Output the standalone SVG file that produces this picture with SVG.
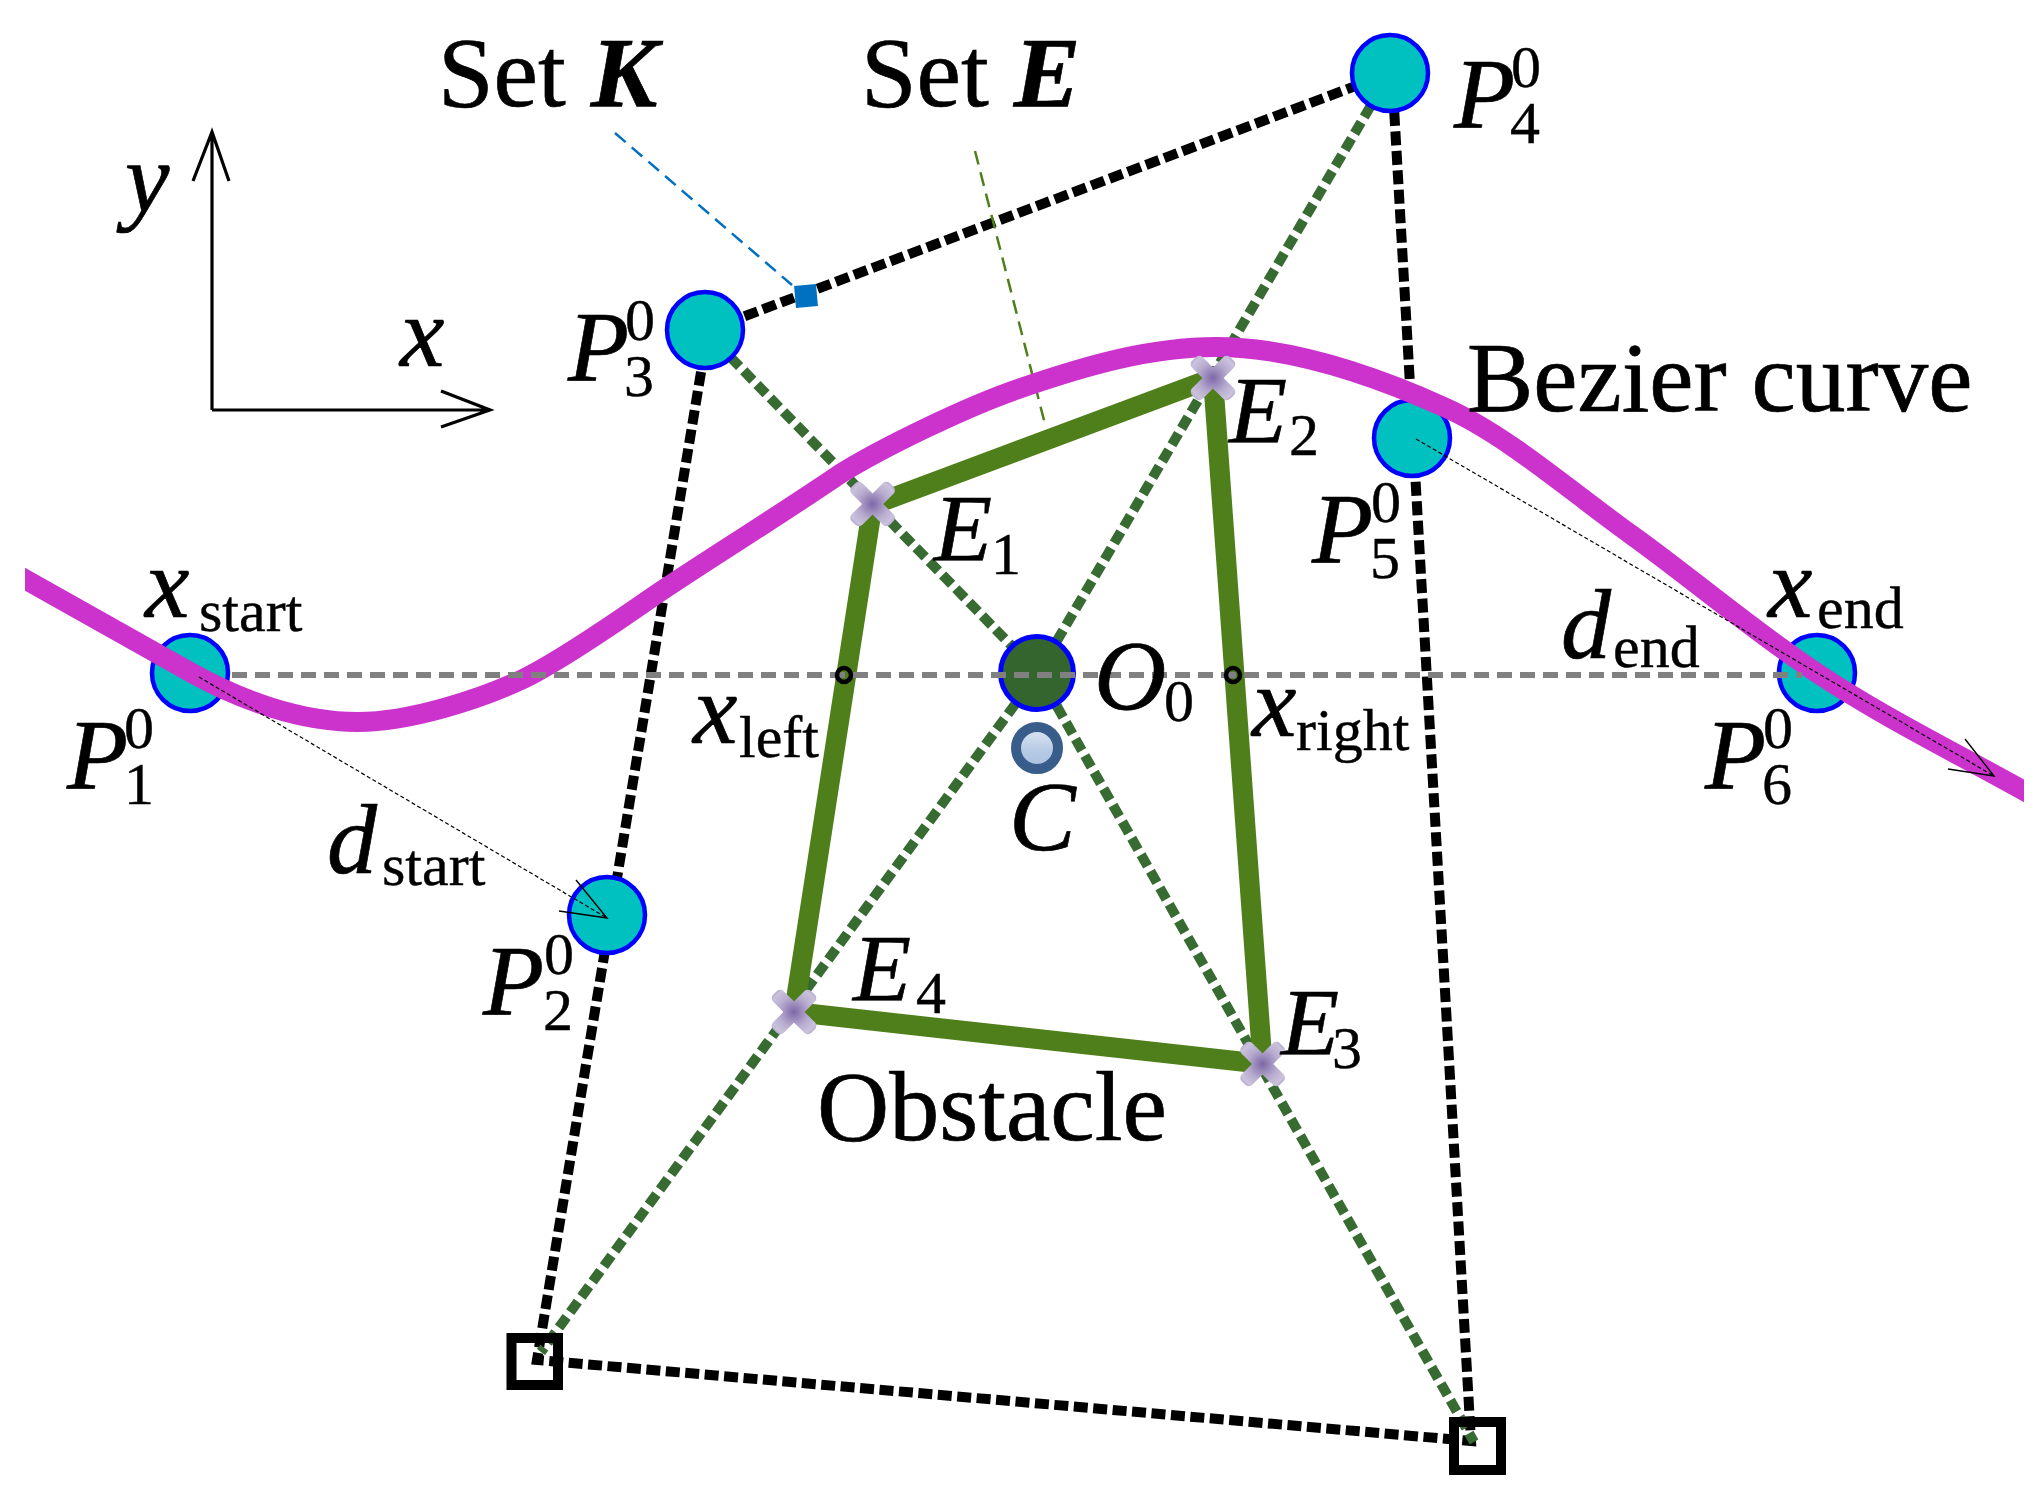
<svg xmlns="http://www.w3.org/2000/svg" width="2043" height="1500" viewBox="0 0 2043 1500">
<style>
text{font-family:"Liberation Serif","Times New Roman",serif;fill:#000;stroke:#000;stroke-width:.7}
.t{font-size:100px}.i{font-size:100px;font-style:italic}.e{font-size:95px;font-style:italic}.s{font-size:60px;stroke-width:.4}
.bi{font-weight:bold;font-style:italic}
.blk{fill:none;stroke:#000;stroke-width:10;stroke-dasharray:14 5.5}
.grn{fill:none;stroke:#376b32;stroke-width:10;stroke-dasharray:13 6}
.gry{fill:none;stroke:#808080;stroke-width:6;stroke-dasharray:15 8}
.obs{fill:none;stroke:#4f7f1a;stroke-width:20;stroke-linejoin:miter}
.ax{fill:none;stroke:#000;stroke-width:3.2}
.thin{fill:none;stroke:#000;stroke-width:1.2;stroke-dasharray:4 2.5}
.wing{fill:none;stroke:#000;stroke-width:1.4}
.ctrl{fill:#00c0c0;stroke:#0000ff;stroke-width:4.5}
.sq{fill:none;stroke:#000;stroke-width:10}
.mk{fill:none;stroke:#000;stroke-width:4.5}
</style>
<defs>
<radialGradient id="cg" gradientUnits="userSpaceOnUse" cx="0" cy="0" r="30">
<stop offset="0" stop-color="#7d68a8"/><stop offset="0.5" stop-color="#b8accf"/><stop offset="0.8" stop-color="#cbc2dd"/><stop offset="1" stop-color="#a597c2"/>
</radialGradient>
<linearGradient id="cc" x1="0" y1="0" x2="0" y2="1">
<stop offset="0" stop-color="#dfe8f3"/><stop offset="0.6" stop-color="#b4c9e4"/><stop offset="1" stop-color="#a9c1e0"/>
</linearGradient>
<g id="cross">
<rect x="-27" y="-7.500" width="54" height="15" rx="5" fill="url(#cg)" transform="rotate(45)"/>
<rect x="-27" y="-7.500" width="54" height="15" rx="5" fill="url(#cg)" transform="rotate(-45)"/>
</g>
<clipPath id="cv"><rect x="25" y="0" width="1999" height="1500"/></clipPath>
</defs>
<g id="connectors">
<path id="control-black" class="blk" d="M708 330L1390 73M1392 73L1471 1441L537 1360L708 330"/>
<path id="spoke-p3" class="grn" d="M704 330L1038 673"/>
<path id="spoke-p4" class="grn" d="M1390 73L1038 673"/>
<path id="spoke-b" class="grn" d="M1038 673L1474 1442"/>
<path id="spoke-a" class="grn" d="M1038 673L541 1352"/>
<path id="leader-k" fill="none" stroke="#0070c0" stroke-width="2.5" stroke-dasharray="14 8" d="M615 133L792 285"/>
<path id="leader-e" fill="none" stroke="#4f7f1a" stroke-width="2.5" stroke-dasharray="14 8" d="M975 151L1046 428"/>
</g>
<g id="axes">
<path class="ax" d="M212 410V132M193 181L212 132L229 181M212 410H490M441 391L490 410L441 427"/>
</g>
<g id="obstacle">
<path class="obs" d="M872.600 505L1213 378L1262.600 1064L794 1012Z"/>
</g>
<g id="node-p1"><circle class="ctrl" cx="190" cy="673" r="38"/></g>
<g id="node-p2"><circle class="ctrl" cx="607" cy="915" r="38"/></g>
<g id="node-p3"><circle class="ctrl" cx="705" cy="330" r="38"/></g>
<g id="node-p4"><circle class="ctrl" cx="1390" cy="73" r="38"/></g>
<g id="node-p5"><circle class="ctrl" cx="1412" cy="438" r="38"/></g>
<g id="node-p6"><circle class="ctrl" cx="1817" cy="673" r="38"/></g>
<g id="node-o0"><circle cx="1037" cy="673" r="36.500" fill="#35652f" stroke="#0000ff" stroke-width="5"/></g>
<g id="node-c"><circle cx="1037" cy="748" r="21" fill="url(#cc)" stroke="#385d8a" stroke-width="10"/></g>
<g id="corner-a"><rect class="sq" x="511.500" y="1338" width="46.500" height="47"/></g>
<g id="corner-b"><rect class="sq" x="1454" y="1422" width="47" height="48"/></g>
<g id="node-k"><rect x="795" y="285" width="22" height="22" fill="#0070c0" transform="rotate(-5 806 296)"/></g>
<g id="curve">
<path clip-path="url(#cv)" fill="none" stroke="#cc33cc" stroke-width="20" d="M5 568L190 672C240 700 300 722 358 722C410 722 480 699 521 680C555 664 615 623 651 598C690 571 780 515 840 474C880 449 965 407 1021 388C1085 366 1150 347 1216 347C1292 347 1375 376 1444 407C1507 435 1570 491 1633 536C1694 580 1756 633 1817 673C1886 719 1955 752 2044 802"/>
</g>
<g id="midline">
<path class="gry" d="M232 675H1802"/>
<circle class="mk" cx="844" cy="675" r="7"/>
<circle class="mk" cx="1233" cy="675" r="7"/>
</g>
<g id="distance-lines">
<path class="thin" d="M199 677L607 918"/>
<path class="wing" d="M576 880L607 918L559 911"/>
<path class="thin" d="M1416 439L1994 776"/>
<path class="wing" d="M1965 739L1994 776L1948 769"/>
</g>
<g id="crosses">
<use id="e1" href="#cross" x="872.600" y="504"/>
<use id="e2" href="#cross" x="1213" y="378"/>
<use id="e3" href="#cross" x="1262.600" y="1064"/>
<use id="e4" href="#cross" x="794" y="1012"/>
</g>
<g id="labels">
<text class="t" x="438" y="106">Set <tspan class="bi">K</tspan></text>
<text class="t" x="861" y="106">Set <tspan class="bi">E</tspan></text>
<text class="t" x="1467" y="411" style="font-size:99.500px">Bezier curve</text>
<text class="t" x="817" y="1140">Obstacle</text>
<text class="i" x="125" y="212">y</text>
<text class="i" x="400" y="366">x</text>
<text class="i" x="67" y="788">P</text><text class="s" x="124" y="748">0</text><text class="s" x="124" y="804">1</text>
<text class="i" x="483" y="1014">P</text><text class="s" x="544" y="974">0</text><text class="s" x="543" y="1030">2</text>
<text class="i" x="568" y="380">P</text><text class="s" x="625" y="340">0</text><text class="s" x="624" y="396">3</text>
<text class="i" x="1454" y="127">P</text><text class="s" x="1511" y="87">0</text><text class="s" x="1510" y="143">4</text>
<text class="i" x="1312" y="562">P</text><text class="s" x="1371" y="522">0</text><text class="s" x="1370" y="578">5</text>
<text class="i" x="1705" y="788">P</text><text class="s" x="1763" y="748">0</text><text class="s" x="1762" y="804">6</text>
<text class="e" x="934" y="561">E</text><text class="s" x="991" y="574">1</text>
<text class="e" x="1229" y="443">E</text><text class="s" x="1289" y="455">2</text>
<text class="e" x="1281" y="1055">E</text><text class="s" x="1332" y="1068">3</text>
<text class="e" x="853" y="1001">E</text><text class="s" x="916" y="1013">4</text>
<text class="i" x="1094" y="709">O</text><text class="s" x="1164" y="721">0</text>
<text class="i" x="1009" y="850">C</text>
<text class="i" x="145" y="617">x</text><text class="s" x="199" y="631">start</text>
<text class="i" x="693" y="743">x</text><text class="s" x="739" y="757">left</text>
<text class="i" x="1252" y="736">x</text><text class="s" x="1296" y="750">right</text>
<text class="i" x="1768" y="617">x</text><text class="s" x="1817" y="628">end</text>
<text class="i" x="327" y="873">d</text><text class="s" x="382" y="885">start</text>
<text class="i" x="1561" y="658">d</text><text class="s" x="1613" y="667">end</text>
</g>
</svg>
